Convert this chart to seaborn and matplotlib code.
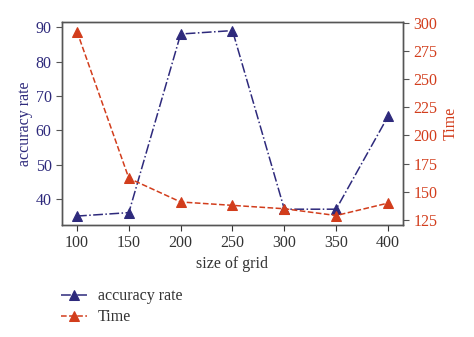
import matplotlib
matplotlib.use("Agg")
import matplotlib.pyplot as plt
import seaborn as sns
import pandas as pd

grid_size = [100, 150, 200, 250, 300, 350, 400]
accuracy_rate = [35, 36, 88, 89, 37, 37, 64]
time_cost = [292, 162, 141, 138, 135, 129, 140]

sns.set_style("white")
plt.rcParams["font.family"] = ["Liberation Serif", "DejaVu Serif"]

blue = "#2e2a7c"
red = "#d23d1c"
spine_col = "#555555"

df = pd.DataFrame({"size": grid_size, "acc": accuracy_rate, "time": time_cost})

fig = plt.figure(figsize=(4.74, 3.37), dpi=100)
ax = fig.add_axes([62 / 474, 1 - 225 / 337, (403 - 62) / 474, (225 - 22) / 337])
ax2 = ax.twinx()

sns.lineplot(data=df, x="size", y="acc", ax=ax, color=blue, linestyle="-.",
             linewidth=1.1, marker="^", markersize=6.5, markeredgecolor=blue,
             label="accuracy rate", legend=False)
sns.lineplot(data=df, x="size", y="time", ax=ax2, color=red, linestyle="--",
             linewidth=1.1, marker="^", markersize=6.5, markeredgecolor=red,
             label="Time", legend=False)

ax.set_xlim(85.5, 414.5)
ax.set_ylim(32.4, 91.5)
ax2.set_ylim(120.6, 300.5)
ax.set_xticks(grid_size)
ax.set_yticks([40, 50, 60, 70, 80, 90])
ax2.set_yticks([125, 150, 175, 200, 225, 250, 275, 300])

ax.set_xlabel("size of grid", fontsize=11.5, color="#333333", labelpad=3)
ax.set_ylabel("accuracy rate", fontsize=11.5, color=blue, labelpad=2)
ax2.set_ylabel("Time", fontsize=11.5, color=red, labelpad=4)

ax.tick_params(axis="x", colors="#333333", labelcolor="#333333", labelsize=11.5,
               direction="out", length=4, width=0.8, bottom=True)
ax.tick_params(axis="y", colors=spine_col, labelcolor=blue, labelsize=11.5,
               direction="out", length=4, width=0.8, left=True)
ax2.tick_params(axis="y", colors=spine_col, labelcolor=red, labelsize=11.5,
                direction="out", length=4, width=0.8, right=True)

for a in (ax, ax2):
    for s in a.spines.values():
        s.set_color(spine_col)
        s.set_linewidth(1.0)

h1, l1 = ax.get_legend_handles_labels()
h2, l2 = ax2.get_legend_handles_labels()
fig.legend(h1 + h2, l1 + l2, loc="upper left", bbox_to_anchor=(47 / 474, 1 - 274 / 337),
           frameon=False, fontsize=11.5, handlelength=1.6, handletextpad=0.7,
           labelspacing=0.3, labelcolor="#333333")

fig.savefig("out.png", dpi=100)
